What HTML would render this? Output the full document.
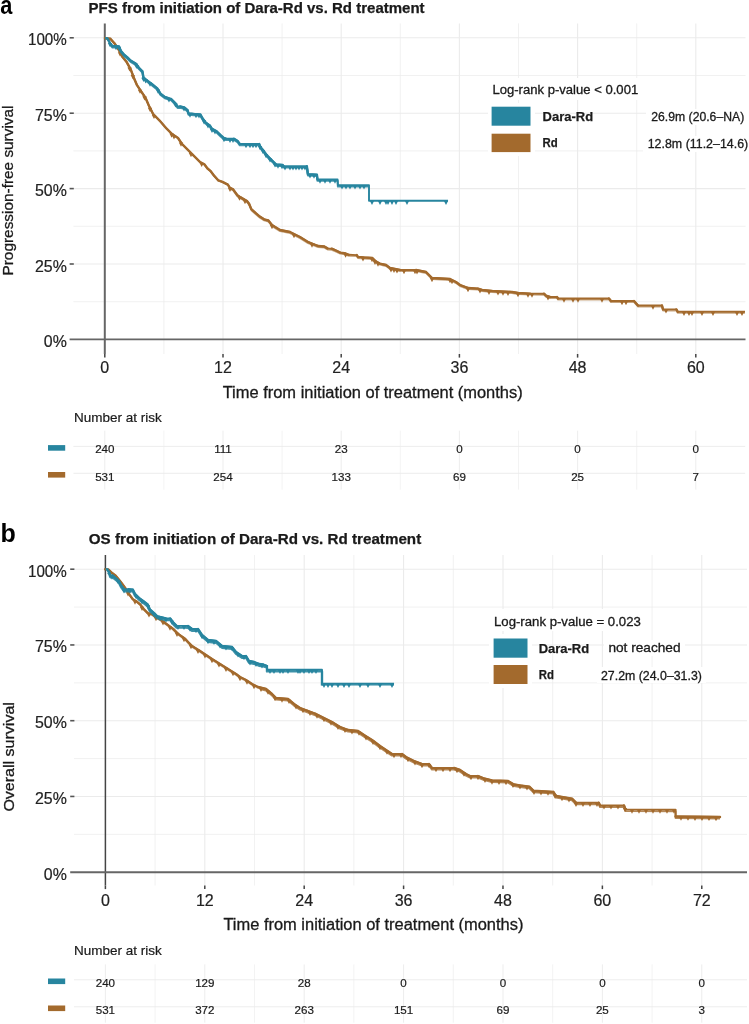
<!DOCTYPE html>
<html><head><meta charset="utf-8"><title>KM curves</title>
<style>html,body{margin:0;padding:0;background:#fff;}body{width:749px;height:1024px;overflow:hidden;font-family:"Liberation Sans",sans-serif;}svg{display:block;filter:blur(0.3px);}</style></head><body>
<svg width="749" height="1024" viewBox="0 0 749 1024" font-family='"Liberation Sans", sans-serif' fill="#1a1a1a">
<rect width="749" height="1024" fill="#ffffff"/>
<text x="0.3" y="14.2" font-size="25" font-weight="bold" textLength="12.1" lengthAdjust="spacingAndGlyphs" fill="#000">a</text>
<text x="88.6" y="12.5" font-size="14.4" stroke="#1a1a1a" stroke-width="0.25" font-weight="bold" textLength="336" lengthAdjust="spacingAndGlyphs">PFS from initiation of Dara-Rd vs. Rd treatment</text>
<line x1="73.4" y1="301.7" x2="745.5" y2="301.7" stroke="#ebebeb" stroke-width="0.7"/>
<line x1="73.4" y1="226.3" x2="745.5" y2="226.3" stroke="#ebebeb" stroke-width="0.7"/>
<line x1="73.4" y1="150.9" x2="745.5" y2="150.9" stroke="#ebebeb" stroke-width="0.7"/>
<line x1="73.4" y1="75.5" x2="745.5" y2="75.5" stroke="#ebebeb" stroke-width="0.7"/>
<line x1="163.9" y1="23.4" x2="163.9" y2="354" stroke="#ebebeb" stroke-width="0.7"/>
<line x1="282.1" y1="23.4" x2="282.1" y2="354" stroke="#ebebeb" stroke-width="0.7"/>
<line x1="400.3" y1="23.4" x2="400.3" y2="354" stroke="#ebebeb" stroke-width="0.7"/>
<line x1="518.5" y1="23.4" x2="518.5" y2="354" stroke="#ebebeb" stroke-width="0.7"/>
<line x1="636.7" y1="23.4" x2="636.7" y2="354" stroke="#ebebeb" stroke-width="0.7"/>
<line x1="73.4" y1="264" x2="745.5" y2="264" stroke="#ebebeb" stroke-width="1.1"/>
<line x1="73.4" y1="188.6" x2="745.5" y2="188.6" stroke="#ebebeb" stroke-width="1.1"/>
<line x1="73.4" y1="113.2" x2="745.5" y2="113.2" stroke="#ebebeb" stroke-width="1.1"/>
<line x1="73.4" y1="37.8" x2="745.5" y2="37.8" stroke="#ebebeb" stroke-width="1.1"/>
<line x1="223" y1="23.4" x2="223" y2="354" stroke="#ebebeb" stroke-width="1.1"/>
<line x1="341.2" y1="23.4" x2="341.2" y2="354" stroke="#ebebeb" stroke-width="1.1"/>
<line x1="459.4" y1="23.4" x2="459.4" y2="354" stroke="#ebebeb" stroke-width="1.1"/>
<line x1="577.6" y1="23.4" x2="577.6" y2="354" stroke="#ebebeb" stroke-width="1.1"/>
<line x1="695.8" y1="23.4" x2="695.8" y2="354" stroke="#ebebeb" stroke-width="1.1"/>
<line x1="104.8" y1="23.4" x2="104.8" y2="354" stroke="#666" stroke-width="2.0"/>
<line x1="104.8" y1="354" x2="104.8" y2="357.6" stroke="#444" stroke-width="1.5"/>
<line x1="69.6" y1="339.4" x2="745.5" y2="339.4" stroke="#666" stroke-width="1.9"/>
<line x1="69.6" y1="264" x2="73.8" y2="264" stroke="#555" stroke-width="1.6"/>
<line x1="69.6" y1="188.6" x2="73.8" y2="188.6" stroke="#555" stroke-width="1.6"/>
<line x1="69.6" y1="113.2" x2="73.8" y2="113.2" stroke="#555" stroke-width="1.6"/>
<line x1="69.6" y1="37.8" x2="73.8" y2="37.8" stroke="#555" stroke-width="1.6"/>
<line x1="223" y1="354" x2="223" y2="357.6" stroke="#444" stroke-width="1.5"/>
<line x1="341.2" y1="354" x2="341.2" y2="357.6" stroke="#444" stroke-width="1.5"/>
<line x1="459.4" y1="354" x2="459.4" y2="357.6" stroke="#444" stroke-width="1.5"/>
<line x1="577.6" y1="354" x2="577.6" y2="357.6" stroke="#444" stroke-width="1.5"/>
<line x1="695.8" y1="354" x2="695.8" y2="357.6" stroke="#444" stroke-width="1.5"/>
<text x="66.8" y="346.9" font-size="15.9" stroke="#222" stroke-width="0.2" text-anchor="end" fill="#222">0%</text>
<text x="66.8" y="271.5" font-size="15.9" stroke="#222" stroke-width="0.2" text-anchor="end" fill="#222">25%</text>
<text x="66.8" y="196.1" font-size="15.9" stroke="#222" stroke-width="0.2" text-anchor="end" fill="#222">50%</text>
<text x="66.8" y="120.7" font-size="15.9" stroke="#222" stroke-width="0.2" text-anchor="end" fill="#222">75%</text>
<text x="66.8" y="45.3" font-size="15.9" stroke="#222" stroke-width="0.2" text-anchor="end" textLength="38.8" lengthAdjust="spacingAndGlyphs" fill="#222">100%</text>
<text x="104.8" y="373.2" font-size="16" stroke="#222" stroke-width="0.2" text-anchor="middle" fill="#222">0</text>
<text x="223" y="373.2" font-size="16" stroke="#222" stroke-width="0.2" text-anchor="middle" fill="#222">12</text>
<text x="341.2" y="373.2" font-size="16" stroke="#222" stroke-width="0.2" text-anchor="middle" fill="#222">24</text>
<text x="459.4" y="373.2" font-size="16" stroke="#222" stroke-width="0.2" text-anchor="middle" fill="#222">36</text>
<text x="577.6" y="373.2" font-size="16" stroke="#222" stroke-width="0.2" text-anchor="middle" fill="#222">48</text>
<text x="695.8" y="373.2" font-size="16" stroke="#222" stroke-width="0.2" text-anchor="middle" fill="#222">60</text>
<polyline points="230,189.05 233.1,190.6 237.4,196.4 240.6,198.6 247,202.3 249.1,205 251.3,210.3 255.5,214.1 259.8,217.8 264.1,220.5 268.4,221.7 272,226.2 280,231.2 290,233.2 300,238.2 308,243.2 318,247.2 324.3,247.7 327.5,249.6 331.7,249.9 336,251.7 340.3,253.8 344.6,254.4 348.8,256 356.8,256.3 357.9,258.1 363.8,258.6 372.3,259.2 375.5,262.4 379.8,264.8 386,266.2 390,269.2 400,271.2 416,271.2 426,273.2 432,279.2 450,280.2 456,283.2 460,286.2 468,289.2 478,289.8 482,291.2 492,292.2 512,293.2 518,294.2 530,294.8 544,294.9 546,296.9 550,298.2 557,298.2 558,299.7 609,299.7 611,302.2 634,302.2 638,306.7 662,306.7 663,310.6 676.4,310.6 677.7,313 745,313" fill="none" stroke="#a36a2d" stroke-width="1.6" stroke-opacity="0.6" stroke-linejoin="round"/>
<polyline points="105,38.2 110.3,38.7 114.6,43.5 118.9,50 122.1,56.4 126.4,61.7 130.6,69.2 133.8,77.7 137,85.2 141.3,91.6 145.6,98 148.8,105.5 153.1,114 160,121 166,128 172,134 178,138 182,144 188,150 194,156 200,162 204.3,164.3 207.5,168.5 210.7,171.2 213.9,175.5 218.2,180.3 222.4,181.9 227.8,184.6 229.9,187.8 233.1,189.4 237.4,195.2 240.6,197.4 247,201.1 249.1,203.8 251.3,209.1 255.5,212.9 259.8,216.6 264.1,219.3 268.4,220.5 272,225 280,230 290,232 300,237 308,242 318,246 324.3,246.5 327.5,248.4 331.7,248.7 336,250.5 340.3,252.6 344.6,253.2 348.8,254.8 356.8,255.1 357.9,256.9 363.8,257.4 372.3,258 375.5,261.2 379.8,263.6 386,265 390,268 400,270 416,270 426,272 432,278 450,279 456,282 460,285 468,288 478,288.6 482,290 492,291 512,292 518,293 530,293.6 544,293.7 546,295.7 550,297 557,297 558,298.5 609,298.5 611,301 634,301 638,305.5 662,305.5 663,309.4 676.4,309.4 677.7,311.8 745,311.8" fill="none" stroke="#a36a2d" stroke-width="1.9" stroke-linejoin="round" stroke-linecap="butt"/>
<path d="M105,38.2L110.3,38.7M110.3,38.7L114.6,43.5M114.6,43.5L118.9,50M118.9,50L122.1,56.4M122.1,56.4L126.4,61.7M126.4,61.7L130.6,69.2M130.6,69.2L133.8,77.7M133.8,77.7L137,85.2M137,85.2L141.3,91.6M141.3,91.6L145.6,98M145.6,98L148.8,105.5M148.8,105.5L153.1,114M153.1,114L160,121M160,121L166,128M166,128L172,134M172,134L178,138M178,138L182,144M182,144L188,150M188,150L194,156M194,156L200,162M200,162L204.3,164.3M204.3,164.3L207.5,168.5M207.5,168.5L210.7,171.2M210.7,171.2L213.9,175.5M213.9,175.5L218.2,180.3M218.2,180.3L222.4,181.9M222.4,181.9L227.8,184.6M227.8,184.6L229.9,187.8M229.9,187.8L233.1,189.4M233.1,189.4L237.4,195.2M237.4,195.2L240.6,197.4M240.6,197.4L247,201.1M247,201.1L249.1,203.8M249.1,203.8L251.3,209.1M251.3,209.1L255.5,212.9M255.5,212.9L259.8,216.6M259.8,216.6L264.1,219.3M264.1,219.3L268.4,220.5M268.4,220.5L272,225M272,225L280,230M280,230L290,232M290,232L300,237M300,237L308,242M308,242L318,246M318,246L324.3,246.5M324.3,246.5L327.5,248.4M331.7,248.7L336,250.5M336,250.5L340.3,252.6M340.3,252.6L344.6,253.2M344.6,253.2L348.8,254.8M356.8,255.1L357.9,256.9M357.9,256.9L363.8,257.4M363.8,257.4L372.3,258M372.3,258L375.5,261.2M375.5,261.2L379.8,263.6M379.8,263.6L386,265M386,265L390,268M390,268L400,270M416,270L426,272M426,272L432,278M432,278L450,279M450,279L456,282M456,282L460,285M460,285L468,288M468,288L478,288.6M478,288.6L482,290M482,290L492,291M492,291L512,292M512,292L518,293M518,293L530,293.6M544,293.7L546,295.7M546,295.7L550,297M557,297L558,298.5M609,298.5L611,301M634,301L638,305.5M662,305.5L663,309.4M676.4,309.4L677.7,311.8" stroke="#a36a2d" stroke-width="2.4" stroke-linecap="round" fill="none"/>
<path d="M117.8,52.2L122.2,52.2L120,56.4ZM127.4,67.41L131.8,67.41L129.6,71.61ZM130.6,75.04L135,75.04L132.8,79.24ZM137.8,89.67L142.2,89.67L140,93.87ZM142.3,96.36L146.7,96.36L144.5,100.56ZM147.8,107.87L152.2,107.87L150,112.07ZM151.8,114.91L156.2,114.91L154,119.11ZM169.4,133.6L173.8,133.6L171.6,137.8ZM171.8,135.33L176.2,135.33L174,139.53ZM178.8,142.5L183.2,142.5L181,146.7ZM188.8,153L193.2,153L191,157.2ZM199.5,162.91L203.9,162.91L201.7,167.11ZM227.8,187.85L232.2,187.85L230,192.05ZM237.3,196.64L241.7,196.64L239.5,200.84ZM242.8,199.94L247.2,199.94L245,204.14ZM269.8,225L274.2,225L272,229.2ZM291.8,234L296.2,234L294,238.2ZM309.8,243.6L314.2,243.6L312,247.8ZM343.4,253.58L347.8,253.58L345.6,257.78ZM360.8,257.33L365.2,257.33L363,261.53ZM369.8,257.98L374.2,257.98L372,262.18ZM372.8,260.7L377.2,260.7L375,264.9ZM375.8,262.6L380.2,262.6L378,266.8ZM388.8,268.2L393.2,268.2L391,272.4ZM391.8,268.8L396.2,268.8L394,273ZM394.8,269.4L399.2,269.4L397,273.6ZM401.8,270L406.2,270L404,274.2ZM412.8,270L417.2,270L415,274.2ZM414.8,270.2L419.2,270.2L417,274.4ZM429.8,278L434.2,278L432,282.2ZM447.8,279L452.2,279L450,283.2ZM449.8,280L454.2,280L452,284.2ZM465.8,288L470.2,288L468,292.2ZM477.8,289.3L482.2,289.3L480,293.5ZM486.8,290.7L491.2,290.7L489,294.9ZM495.8,291.3L500.2,291.3L498,295.5ZM500.8,291.55L505.2,291.55L503,295.75ZM505.8,291.8L510.2,291.8L508,296ZM515.8,293L520.2,293L518,297.2ZM525.8,293.5L530.2,293.5L528,297.7ZM529.8,293.61L534.2,293.61L532,297.81ZM545.8,296.35L550.2,296.35L548,300.55ZM561.8,298.5L566.2,298.5L564,302.7ZM570.8,298.5L575.2,298.5L573,302.7ZM575.8,298.5L580.2,298.5L578,302.7ZM599.8,298.5L604.2,298.5L602,302.7ZM619.8,301L624.2,301L622,305.2ZM623.8,301L628.2,301L626,305.2ZM650.8,305.5L655.2,305.5L653,309.7ZM663.8,309.4L668.2,309.4L666,313.6ZM681.8,311.8L686.2,311.8L684,316ZM686.8,311.8L691.2,311.8L689,316ZM689.8,311.8L694.2,311.8L692,316ZM699.8,311.8L704.2,311.8L702,316ZM710.8,311.8L715.2,311.8L713,316ZM734.8,311.8L739.2,311.8L737,316ZM739.8,311.8L744.2,311.8L742,316Z" fill="#a36a2d" stroke="none"/>
<polyline points="110,44.3 110.3,44.8 112.5,47.5 115.7,47.2 118.9,47.8 121,52.3 124.2,56.1 127.4,58.7 130.6,61.9 136,65.1 139.2,69.4 142.4,72.6 143.5,79 147.7,82.2 152,85.4 157.3,89.7 160.5,95 164.8,98.3 171.2,100.4 175.5,104.7 177.6,107.9 180,107.7 184.3,108.8 187.5,111.4 188.5,114.7 193.9,115.2 200.3,115.7 202.4,119.5 205.6,123.7 209.9,126.9 212,130.1 216.3,132.3 220.6,136.5 223.8,139.2 225.9,140 234,140 237.7,142.4 239.8,145.3 259.2,145.3 260.4,148.3 263.4,151.9 267,156.7 270.6,160.3 274.2,163.9 276,165.7 282.6,166.3 283.8,167.6 306.9,167.6 307.9,175.4 316.9,176 317.5,180.8 337.6,180.8 337.9,186.6 368,186.6" fill="none" stroke="#27859f" stroke-width="2.0" stroke-opacity="0.85" stroke-linejoin="round"/>
<polyline points="105,38.2 107.1,38.2 110.3,43.5 112.5,46.2 115.7,45.9 118.9,46.5 121,51 124.2,54.8 127.4,57.4 130.6,60.6 136,63.8 139.2,68.1 142.4,71.3 143.5,77.7 147.7,80.9 152,84.1 157.3,88.4 160.5,93.7 164.8,97 171.2,99.1 175.5,103.4 177.6,106.6 180,106.4 184.3,107.5 187.5,110.1 188.5,113.4 193.9,113.9 200.3,114.4 202.4,118.2 205.6,122.4 209.9,125.6 212,128.8 216.3,131 220.6,135.2 223.8,137.9 225.9,138.7 234,138.7 237.7,141.1 239.8,144 259.2,144 260.4,147 263.4,150.6 267,155.4 270.6,159 274.2,162.6 276,164.4 282.6,165 283.8,166.3 306.9,166.3 307.9,174.1 316.9,174.7 317.5,179.5 337.6,179.5 337.9,185.3 369,185.3 369,200.7 448,200.7" fill="none" stroke="#27859f" stroke-width="1.9" stroke-linejoin="round" stroke-linecap="butt"/>
<path d="M107.1,38.2L110.3,43.5M110.3,43.5L112.5,46.2M112.5,46.2L115.7,45.9M115.7,45.9L118.9,46.5M118.9,46.5L121,51M121,51L124.2,54.8M124.2,54.8L127.4,57.4M127.4,57.4L130.6,60.6M130.6,60.6L136,63.8M136,63.8L139.2,68.1M139.2,68.1L142.4,71.3M142.4,71.3L143.5,77.7M143.5,77.7L147.7,80.9M147.7,80.9L152,84.1M152,84.1L157.3,88.4M157.3,88.4L160.5,93.7M160.5,93.7L164.8,97M164.8,97L171.2,99.1M171.2,99.1L175.5,103.4M175.5,103.4L177.6,106.6M180,106.4L184.3,107.5M184.3,107.5L187.5,110.1M187.5,110.1L188.5,113.4M188.5,113.4L193.9,113.9M193.9,113.9L200.3,114.4M200.3,114.4L202.4,118.2M202.4,118.2L205.6,122.4M205.6,122.4L209.9,125.6M209.9,125.6L212,128.8M212,128.8L216.3,131M216.3,131L220.6,135.2M220.6,135.2L223.8,137.9M223.8,137.9L225.9,138.7M234,138.7L237.7,141.1M237.7,141.1L239.8,144M259.2,144L260.4,147M260.4,147L263.4,150.6M263.4,150.6L267,155.4M267,155.4L270.6,159M270.6,159L274.2,162.6M274.2,162.6L276,164.4M276,164.4L282.6,165M282.6,165L283.8,166.3M306.9,166.3L307.9,174.1M307.9,174.1L316.9,174.7M316.9,174.7L317.5,179.5" stroke="#27859f" stroke-width="2.4" stroke-linecap="round" fill="none"/>
<path d="M107.8,43L112.2,43L110,47.2ZM113.8,45.96L118.2,45.96L116,50.16ZM116.8,46.71L121.2,46.71L119,50.91ZM133.8,63.8L138.2,63.8L136,68ZM134.8,65.14L139.2,65.14L137,69.34ZM141.3,77.7L145.7,77.7L143.5,81.9ZM143.4,79.3L147.8,79.3L145.6,83.5ZM147.8,82.61L152.2,82.61L150,86.81ZM155.8,89.56L160.2,89.56L158,93.76ZM166.8,98.38L171.2,98.38L169,102.58ZM173.3,103.4L177.7,103.4L175.5,107.6ZM181.8,107.42L186.2,107.42L184,111.62ZM187.8,113.54L192.2,113.54L190,117.74ZM193.8,114.06L198.2,114.06L196,118.26ZM196.8,114.3L201.2,114.3L199,118.5ZM201.8,120.3L206.2,120.3L204,124.5ZM205.8,124.19L210.2,124.19L208,128.39ZM209.8,128.8L214.2,128.8L212,133ZM212.8,130.33L217.2,130.33L215,134.53ZM221.8,137.98L226.2,137.98L224,142.18ZM227.8,138.7L232.2,138.7L230,142.9ZM230.8,138.7L235.2,138.7L233,142.9ZM243.8,144L248.2,144L246,148.2ZM247.8,144L252.2,144L250,148.2ZM250.8,144L255.2,144L253,148.2ZM253.8,144L258.2,144L256,148.2ZM257.8,146L262.2,146L260,150.2ZM260.8,150.12L265.2,150.12L263,154.32ZM263.8,154.07L268.2,154.07L266,158.27ZM267.8,158.4L272.2,158.4L270,162.6ZM272.8,163.4L277.2,163.4L275,167.6ZM275.8,164.58L280.2,164.58L278,168.78ZM279.8,164.95L284.2,164.95L282,169.15ZM282.8,166.3L287.2,166.3L285,170.5ZM287.8,166.3L292.2,166.3L290,170.5ZM290.8,166.3L295.2,166.3L293,170.5ZM293.8,166.3L298.2,166.3L296,170.5ZM296.8,166.3L301.2,166.3L299,170.5ZM299.8,166.3L304.2,166.3L302,170.5ZM302.8,166.3L307.2,166.3L305,170.5ZM307.8,174.24L312.2,174.24L310,178.44ZM311.8,174.51L316.2,174.51L314,178.71ZM317.8,179.5L322.2,179.5L320,183.7ZM322.8,179.5L327.2,179.5L325,183.7ZM327.8,179.5L332.2,179.5L330,183.7ZM332.8,179.5L337.2,179.5L335,183.7ZM339.8,185.3L344.2,185.3L342,189.5ZM343.8,185.3L348.2,185.3L346,189.5ZM347.8,185.3L352.2,185.3L350,189.5ZM352.8,185.3L357.2,185.3L355,189.5ZM357.8,185.3L362.2,185.3L360,189.5ZM361.8,185.3L366.2,185.3L364,189.5ZM369.8,200.7L374.2,200.7L372,204.9ZM377.8,200.7L382.2,200.7L380,204.9ZM383.8,200.7L388.2,200.7L386,204.9ZM385.8,200.7L390.2,200.7L388,204.9ZM389.8,200.7L394.2,200.7L392,204.9ZM393.8,200.7L398.2,200.7L396,204.9ZM404.8,200.7L409.2,200.7L407,204.9ZM443.8,200.7L448.2,200.7L446,204.9Z" fill="#27859f" stroke="none"/>
<text x="0" y="0" font-size="15.5" stroke="#1a1a1a" stroke-width="0.3" textLength="170" lengthAdjust="spacingAndGlyphs" transform="translate(13,275.5) rotate(-90)">Progression-free survival</text>
<text x="222.7" y="397.8" font-size="15.6" stroke="#1a1a1a" stroke-width="0.3" textLength="300" lengthAdjust="spacingAndGlyphs">Time from initiation of treatment (months)</text>
<rect x="487" y="78" width="160" height="22" fill="#fff"/>
<rect x="488" y="103" width="47" height="53" fill="#fff"/>
<rect x="646" y="109" width="103" height="16" fill="#fff"/>
<rect x="643" y="136" width="106" height="16" fill="#fff"/>
<text x="492.4" y="93.6" font-size="12.5" stroke="#1a1a1a" stroke-width="0.3" textLength="145.8" lengthAdjust="spacingAndGlyphs">Log-rank p-value &lt; 0.001</text>
<rect x="491.6" y="106.7" width="38.9" height="19" fill="#27859f"/>
<rect x="491.6" y="133.7" width="38.9" height="18.4" fill="#a36a2d"/>
<text x="542.6" y="121" font-size="13" stroke="#1a1a1a" stroke-width="0.25" font-weight="bold" textLength="50.5" lengthAdjust="spacingAndGlyphs">Dara-Rd</text>
<text x="542.6" y="147" font-size="13" stroke="#1a1a1a" stroke-width="0.25" font-weight="bold" textLength="15.2" lengthAdjust="spacingAndGlyphs">Rd</text>
<text x="651.3" y="121.3" font-size="12.3" stroke="#1a1a1a" stroke-width="0.3" textLength="92.9" lengthAdjust="spacingAndGlyphs">26.9m (20.6–NA)</text>
<text x="647.7" y="147.6" font-size="12.3" stroke="#1a1a1a" stroke-width="0.3" textLength="100.5" lengthAdjust="spacingAndGlyphs">12.8m (11.2–14.6)</text>
<line x1="73.4" y1="446.4" x2="745.2" y2="446.4" stroke="#ebebeb" stroke-width="0.9"/>
<line x1="73.4" y1="473.3" x2="745.2" y2="473.3" stroke="#ebebeb" stroke-width="0.9"/>
<line x1="104.8" y1="430.7" x2="104.8" y2="489.6" stroke="#ebebeb" stroke-width="0.9"/>
<line x1="163.9" y1="430.7" x2="163.9" y2="489.6" stroke="#ebebeb" stroke-width="0.6"/>
<line x1="223" y1="430.7" x2="223" y2="489.6" stroke="#ebebeb" stroke-width="0.9"/>
<line x1="282.1" y1="430.7" x2="282.1" y2="489.6" stroke="#ebebeb" stroke-width="0.6"/>
<line x1="341.2" y1="430.7" x2="341.2" y2="489.6" stroke="#ebebeb" stroke-width="0.9"/>
<line x1="400.3" y1="430.7" x2="400.3" y2="489.6" stroke="#ebebeb" stroke-width="0.6"/>
<line x1="459.4" y1="430.7" x2="459.4" y2="489.6" stroke="#ebebeb" stroke-width="0.9"/>
<line x1="518.5" y1="430.7" x2="518.5" y2="489.6" stroke="#ebebeb" stroke-width="0.6"/>
<line x1="577.6" y1="430.7" x2="577.6" y2="489.6" stroke="#ebebeb" stroke-width="0.9"/>
<line x1="636.7" y1="430.7" x2="636.7" y2="489.6" stroke="#ebebeb" stroke-width="0.6"/>
<line x1="695.8" y1="430.7" x2="695.8" y2="489.6" stroke="#ebebeb" stroke-width="0.9"/>
<text x="74.1" y="422" font-size="12.6" stroke="#1a1a1a" stroke-width="0.2" textLength="87.7" lengthAdjust="spacingAndGlyphs">Number at risk</text>
<rect x="48" y="445.1" width="17.2" height="5.6" fill="#27859f"/>
<rect x="48" y="472" width="17.2" height="5.6" fill="#a36a2d"/>
<text x="104.8" y="453.2" font-size="11.6" stroke="#1a1a1a" stroke-width="0.2" text-anchor="middle">240</text>
<text x="223" y="453.2" font-size="11.6" stroke="#1a1a1a" stroke-width="0.2" text-anchor="middle">111</text>
<text x="341.2" y="453.2" font-size="11.6" stroke="#1a1a1a" stroke-width="0.2" text-anchor="middle">23</text>
<text x="459.4" y="453.2" font-size="11.6" stroke="#1a1a1a" stroke-width="0.2" text-anchor="middle">0</text>
<text x="577.6" y="453.2" font-size="11.6" stroke="#1a1a1a" stroke-width="0.2" text-anchor="middle">0</text>
<text x="695.8" y="453.2" font-size="11.6" stroke="#1a1a1a" stroke-width="0.2" text-anchor="middle">0</text>
<text x="104.8" y="480.7" font-size="11.6" stroke="#1a1a1a" stroke-width="0.2" text-anchor="middle">531</text>
<text x="223" y="480.7" font-size="11.6" stroke="#1a1a1a" stroke-width="0.2" text-anchor="middle">254</text>
<text x="341.2" y="480.7" font-size="11.6" stroke="#1a1a1a" stroke-width="0.2" text-anchor="middle">133</text>
<text x="459.4" y="480.7" font-size="11.6" stroke="#1a1a1a" stroke-width="0.2" text-anchor="middle">69</text>
<text x="577.6" y="480.7" font-size="11.6" stroke="#1a1a1a" stroke-width="0.2" text-anchor="middle">25</text>
<text x="695.8" y="480.7" font-size="11.6" stroke="#1a1a1a" stroke-width="0.2" text-anchor="middle">7</text>
<text x="0.4" y="541.5" font-size="25" font-weight="bold" fill="#000">b</text>
<text x="88.8" y="543.5" font-size="14.4" stroke="#1a1a1a" stroke-width="0.25" font-weight="bold" textLength="332.4" lengthAdjust="spacingAndGlyphs">OS from initiation of Dara-Rd vs. Rd treatment</text>
<line x1="74" y1="834.33" x2="747" y2="834.33" stroke="#ebebeb" stroke-width="0.7"/>
<line x1="74" y1="758.58" x2="747" y2="758.58" stroke="#ebebeb" stroke-width="0.7"/>
<line x1="74" y1="682.83" x2="747" y2="682.83" stroke="#ebebeb" stroke-width="0.7"/>
<line x1="74" y1="607.08" x2="747" y2="607.08" stroke="#ebebeb" stroke-width="0.7"/>
<line x1="155.1" y1="555" x2="155.1" y2="885.5" stroke="#ebebeb" stroke-width="0.7"/>
<line x1="254.49" y1="555" x2="254.49" y2="885.5" stroke="#ebebeb" stroke-width="0.7"/>
<line x1="353.89" y1="555" x2="353.89" y2="885.5" stroke="#ebebeb" stroke-width="0.7"/>
<line x1="453.29" y1="555" x2="453.29" y2="885.5" stroke="#ebebeb" stroke-width="0.7"/>
<line x1="552.68" y1="555" x2="552.68" y2="885.5" stroke="#ebebeb" stroke-width="0.7"/>
<line x1="652.08" y1="555" x2="652.08" y2="885.5" stroke="#ebebeb" stroke-width="0.7"/>
<line x1="74" y1="796.45" x2="747" y2="796.45" stroke="#ebebeb" stroke-width="1.1"/>
<line x1="74" y1="720.7" x2="747" y2="720.7" stroke="#ebebeb" stroke-width="1.1"/>
<line x1="74" y1="644.95" x2="747" y2="644.95" stroke="#ebebeb" stroke-width="1.1"/>
<line x1="74" y1="569.2" x2="747" y2="569.2" stroke="#ebebeb" stroke-width="1.1"/>
<line x1="204.8" y1="555" x2="204.8" y2="885.5" stroke="#ebebeb" stroke-width="1.1"/>
<line x1="304.19" y1="555" x2="304.19" y2="885.5" stroke="#ebebeb" stroke-width="1.1"/>
<line x1="403.59" y1="555" x2="403.59" y2="885.5" stroke="#ebebeb" stroke-width="1.1"/>
<line x1="502.98" y1="555" x2="502.98" y2="885.5" stroke="#ebebeb" stroke-width="1.1"/>
<line x1="602.38" y1="555" x2="602.38" y2="885.5" stroke="#ebebeb" stroke-width="1.1"/>
<line x1="701.78" y1="555" x2="701.78" y2="885.5" stroke="#ebebeb" stroke-width="1.1"/>
<line x1="105.4" y1="555" x2="105.4" y2="885.5" stroke="#444" stroke-width="1.5"/>
<line x1="105.4" y1="885.5" x2="105.4" y2="889.1" stroke="#444" stroke-width="1.5"/>
<line x1="70.2" y1="872.2" x2="747" y2="872.2" stroke="#666" stroke-width="1.9"/>
<line x1="70.2" y1="796.45" x2="74.4" y2="796.45" stroke="#555" stroke-width="1.6"/>
<line x1="70.2" y1="720.7" x2="74.4" y2="720.7" stroke="#555" stroke-width="1.6"/>
<line x1="70.2" y1="644.95" x2="74.4" y2="644.95" stroke="#555" stroke-width="1.6"/>
<line x1="70.2" y1="569.2" x2="74.4" y2="569.2" stroke="#555" stroke-width="1.6"/>
<line x1="204.8" y1="885.5" x2="204.8" y2="889.1" stroke="#444" stroke-width="1.5"/>
<line x1="304.19" y1="885.5" x2="304.19" y2="889.1" stroke="#444" stroke-width="1.5"/>
<line x1="403.59" y1="885.5" x2="403.59" y2="889.1" stroke="#444" stroke-width="1.5"/>
<line x1="502.98" y1="885.5" x2="502.98" y2="889.1" stroke="#444" stroke-width="1.5"/>
<line x1="602.38" y1="885.5" x2="602.38" y2="889.1" stroke="#444" stroke-width="1.5"/>
<line x1="701.78" y1="885.5" x2="701.78" y2="889.1" stroke="#444" stroke-width="1.5"/>
<text x="66.8" y="879.7" font-size="15.9" stroke="#222" stroke-width="0.2" text-anchor="end" fill="#222">0%</text>
<text x="66.8" y="803.95" font-size="15.9" stroke="#222" stroke-width="0.2" text-anchor="end" fill="#222">25%</text>
<text x="66.8" y="728.2" font-size="15.9" stroke="#222" stroke-width="0.2" text-anchor="end" fill="#222">50%</text>
<text x="66.8" y="652.45" font-size="15.9" stroke="#222" stroke-width="0.2" text-anchor="end" fill="#222">75%</text>
<text x="66.8" y="576.7" font-size="15.9" stroke="#222" stroke-width="0.2" text-anchor="end" textLength="38.8" lengthAdjust="spacingAndGlyphs" fill="#222">100%</text>
<text x="105.4" y="906" font-size="16" stroke="#222" stroke-width="0.2" text-anchor="middle" fill="#222">0</text>
<text x="204.8" y="906" font-size="16" stroke="#222" stroke-width="0.2" text-anchor="middle" fill="#222">12</text>
<text x="304.19" y="906" font-size="16" stroke="#222" stroke-width="0.2" text-anchor="middle" fill="#222">24</text>
<text x="403.59" y="906" font-size="16" stroke="#222" stroke-width="0.2" text-anchor="middle" fill="#222">36</text>
<text x="502.98" y="906" font-size="16" stroke="#222" stroke-width="0.2" text-anchor="middle" fill="#222">48</text>
<text x="602.38" y="906" font-size="16" stroke="#222" stroke-width="0.2" text-anchor="middle" fill="#222">60</text>
<text x="701.78" y="906" font-size="16" stroke="#222" stroke-width="0.2" text-anchor="middle" fill="#222">72</text>
<polyline points="150,614.73 152,615.2 156.3,618.4 160.5,620.6 164.8,623.8 169.1,627 173.4,630.2 177.6,634.5 181.9,637.7 185,639.8 188,643.1 192,647.1 200,652.1 206,656.1 212,660.1 220,665.1 228,670.1 236,675.1 240,678.1 246,681.1 252,685.1 258,688.1 260,688.6" fill="none" stroke="#a36a2d" stroke-width="1.5" stroke-opacity="0.5" stroke-linejoin="round"/>
<polyline points="260,689.1 266,690.6 272,695.6 276,699.6 288,700.6 294,705.6 300,709.6 308,712.6 316,715.6 324,719.6 332,723.6 340,728.6 348,731.6 358,732.6 364,736.6 372,741.6 380,747.6 386,751.6 392,755.6 402,755.6 406,758.6 414,762.6 422,765.6 429,765.6 432,769.6 454,769.6 460,771.6 466,775.6 470,777.6 478,777.6 484,780.1 492,782.1 508,782.6 514,786.1 520,787 529.3,788.3 533.4,792.3 553.4,793.6 556,797.6 572,800.3 576,804.3 598.8,804.3 600,807 624,807 625.5,811 675.6,811.2 675.6,818.1 720,818.6" fill="none" stroke="#a36a2d" stroke-width="2.0" stroke-opacity="0.8" stroke-linejoin="round"/>
<polyline points="104,569.3 108.2,569.5 111.4,572.5 115.7,575.7 120,581 123.2,585.3 126.4,589.6 129.6,594.9 132.8,599.2 137,601.8 140.2,604.5 143.5,608.8 147.7,613.1 152,614.1 156.3,617.3 160.5,619.5 164.8,622.7 169.1,625.9 173.4,629.1 177.6,633.4 181.9,636.6 185,638.7 188,642 192,646 200,651 206,655 212,659 220,664 228,669 236,674 240,677 246,680 252,684 258,687 266,689 272,694 276,698 288,699 294,704 300,708 308,711 316,714 324,718 332,722 340,727 348,730 358,731 364,735 372,740 380,746 386,750 392,754 402,754 406,757 414,761 422,764 429,764 432,768 454,768 460,770 466,774 470,776 478,776 484,778.5 492,780.5 508,781 514,784.5 520,785.4 529.3,786.7 533.4,790.7 553.4,792 556,796 572,798.7 576,802.7 598.8,802.7 600,805.4 624,805.4 625.5,809.4 675.6,809.6 675.6,816.5 720,817" fill="none" stroke="#a36a2d" stroke-width="1.9" stroke-linejoin="round" stroke-linecap="butt"/>
<path d="M108.2,569.5L111.4,572.5M111.4,572.5L115.7,575.7M115.7,575.7L120,581M120,581L123.2,585.3M123.2,585.3L126.4,589.6M126.4,589.6L129.6,594.9M129.6,594.9L132.8,599.2M132.8,599.2L137,601.8M137,601.8L140.2,604.5M140.2,604.5L143.5,608.8M143.5,608.8L147.7,613.1M147.7,613.1L152,614.1M152,614.1L156.3,617.3M156.3,617.3L160.5,619.5M160.5,619.5L164.8,622.7M164.8,622.7L169.1,625.9M169.1,625.9L173.4,629.1M173.4,629.1L177.6,633.4M177.6,633.4L181.9,636.6M181.9,636.6L185,638.7M185,638.7L188,642M188,642L192,646M192,646L200,651M200,651L206,655M206,655L212,659M212,659L220,664M220,664L228,669M228,669L236,674M236,674L240,677M240,677L246,680M246,680L252,684M252,684L258,687M258,687L266,689M266,689L272,694M272,694L276,698M276,698L288,699M288,699L294,704M294,704L300,708M300,708L308,711M308,711L316,714M316,714L324,718M324,718L332,722M332,722L340,727M340,727L348,730M348,730L358,731M358,731L364,735M364,735L372,740M372,740L380,746M380,746L386,750M386,750L392,754M402,754L406,757M406,757L414,761M414,761L422,764M429,764L432,768M454,768L460,770M460,770L466,774M466,774L470,776M478,776L484,778.5M484,778.5L492,780.5M492,780.5L508,781M508,781L514,784.5M514,784.5L520,785.4M520,785.4L529.3,786.7M529.3,786.7L533.4,790.7M533.4,790.7L553.4,792M553.4,792L556,796M556,796L572,798.7M572,798.7L576,802.7M598.8,802.7L600,805.4M624,805.4L625.5,809.4M675.6,816.5L720,817" stroke="#a36a2d" stroke-width="2.4" stroke-linecap="round" fill="none"/>
<path d="M125.8,592.25L130.2,592.25L128,596.45ZM132.8,600.56L137.2,600.56L135,604.76ZM139.8,606.85L144.2,606.85L142,611.05ZM146.8,613.4L151.2,613.4L149,617.6ZM153.8,617.08L158.2,617.08L156,621.28ZM160.8,621.36L165.2,621.36L163,625.56ZM167.8,626.57L172.2,626.57L170,630.77ZM174.8,632.79L179.2,632.79L177,636.99ZM181.8,638.02L186.2,638.02L184,642.22ZM188.8,645L193.2,645L191,649.2ZM195.8,649.75L200.2,649.75L198,653.95ZM202.8,654.33L207.2,654.33L205,658.53ZM209.8,659L214.2,659L212,663.2ZM216.8,663.38L221.2,663.38L219,667.58ZM223.8,667.75L228.2,667.75L226,671.95ZM230.8,672.12L235.2,672.12L233,676.33ZM237.8,677L242.2,677L240,681.2ZM244.8,680.67L249.2,680.67L247,684.87ZM251.8,685L256.2,685L254,689.2ZM258.8,687.75L263.2,687.75L261,691.95ZM265.8,690.67L270.2,690.67L268,694.87ZM272.8,697L277.2,697L275,701.2ZM279.8,698.5L284.2,698.5L282,702.7ZM286.8,699.83L291.2,699.83L289,704.03ZM293.8,705.33L298.2,705.33L296,709.53ZM300.8,709.12L305.2,709.12L303,713.33ZM307.8,711.75L312.2,711.75L310,715.95ZM314.8,714.5L319.2,714.5L317,718.7ZM321.8,718L326.2,718L324,722.2ZM328.8,721.5L333.2,721.5L331,725.7ZM335.8,725.75L340.2,725.75L338,729.95ZM342.8,728.88L347.2,728.88L345,733.08ZM349.8,730.4L354.2,730.4L352,734.6ZM356.8,731.67L361.2,731.67L359,735.87ZM363.8,736.25L368.2,736.25L366,740.45ZM370.8,740.75L375.2,740.75L373,744.95ZM377.8,746L382.2,746L380,750.2ZM384.8,750.67L389.2,750.67L387,754.87ZM391.8,754L396.2,754L394,758.2ZM398.8,754L403.2,754L401,758.2ZM405.8,758L410.2,758L408,762.2ZM412.8,761.38L417.2,761.38L415,765.58ZM419.8,764L424.2,764L422,768.2ZM426.8,764L431.2,764L429,768.2ZM433.8,768L438.2,768L436,772.2ZM440.8,768L445.2,768L443,772.2ZM447.8,768L452.2,768L450,772.2ZM454.8,769L459.2,769L457,773.2ZM461.8,772.67L466.2,772.67L464,776.87ZM468.8,776L473.2,776L471,780.2ZM475.8,776L480.2,776L478,780.2ZM482.8,778.75L487.2,778.75L485,782.95ZM489.8,780.5L494.2,780.5L492,784.7ZM496.8,780.72L501.2,780.72L499,784.92ZM503.8,780.94L508.2,780.94L506,785.14ZM510.8,783.92L515.2,783.92L513,788.12ZM517.8,785.4L522.2,785.4L520,789.6ZM524.8,786.38L529.2,786.38L527,790.58ZM531.8,790.74L536.2,790.74L534,794.94ZM538.8,791.19L543.2,791.19L541,795.39ZM545.8,791.65L550.2,791.65L548,795.85ZM552.8,794.46L557.2,794.46L555,798.66ZM559.8,797.01L564.2,797.01L562,801.21ZM566.8,798.19L571.2,798.19L569,802.39ZM573.8,802.7L578.2,802.7L576,806.9ZM580.8,802.7L585.2,802.7L583,806.9ZM587.8,802.7L592.2,802.7L590,806.9ZM594.8,802.7L599.2,802.7L597,806.9ZM601.8,805.4L606.2,805.4L604,809.6ZM608.8,805.4L613.2,805.4L611,809.6ZM615.8,805.4L620.2,805.4L618,809.6ZM622.8,808.07L627.2,808.07L625,812.27ZM629.8,809.43L634.2,809.43L632,813.63ZM636.8,809.45L641.2,809.45L639,813.65ZM643.8,809.48L648.2,809.48L646,813.68ZM650.8,809.51L655.2,809.51L653,813.71ZM657.8,809.54L662.2,809.54L660,813.74ZM664.8,809.57L669.2,809.57L667,813.77ZM671.8,809.59L676.2,809.59L674,813.79ZM678.8,816.56L683.2,816.56L681,820.76ZM685.8,816.64L690.2,816.64L688,820.84ZM692.8,816.72L697.2,816.72L695,820.92ZM699.8,816.8L704.2,816.8L702,821ZM706.8,816.88L711.2,816.88L709,821.08ZM713.8,816.95L718.2,816.95L716,821.15Z" fill="#a36a2d" stroke="none"/>
<polyline points="108,572.31 109.3,574.2 110.3,577.2 112.5,577.2 116.7,580.6 118.9,582.7 121,587 124.2,591.2 128.5,591 132.8,591.3 134.9,595.5 139.2,599.8 143.5,603 147.7,606.2 149.9,611.2 154.1,614.8 157.3,618 161.6,619 165.9,620.1 170.2,620.1 173.4,624.4 176.6,627.6 185,627.6 188,627.7 192,630.7 198,630.7 202,636.7 208,641.7 216,642.7 222,647.7 232,648.7 236,653.7 242,657.7 246,657.7 249,662.7 254,663.7 259,665.7 263,666.2 267,667.7 267,671.4 322,671.4 322,685.4 322,685.4" fill="none" stroke="#27859f" stroke-width="2.4" stroke-opacity="0.9" stroke-linejoin="round"/>
<polyline points="322,670.8 322,670.8 322,684.8 394,684.8" fill="none" stroke="#27859f" stroke-width="1.7" stroke-opacity="0.65" stroke-linejoin="round"/>
<polyline points="105.6,569.3 107.1,569.3 109.3,572.5 110.3,575.5 112.5,575.5 116.7,578.9 118.9,581 121,585.3 124.2,589.5 128.5,589.3 132.8,589.6 134.9,593.8 139.2,598.1 143.5,601.3 147.7,604.5 149.9,609.5 154.1,613.1 157.3,616.3 161.6,617.3 165.9,618.4 170.2,618.4 173.4,622.7 176.6,625.9 185,625.9 188,626 192,629 198,629 202,635 208,640 216,641 222,646 232,647 236,652 242,656 246,656 249,661 254,662 259,664 263,664.5 267,666 267,669.7 322,669.7 322,683.7 394,683.7" fill="none" stroke="#27859f" stroke-width="1.9" stroke-linejoin="round" stroke-linecap="butt"/>
<path d="M107.1,569.3L109.3,572.5M109.3,572.5L110.3,575.5M112.5,575.5L116.7,578.9M116.7,578.9L118.9,581M118.9,581L121,585.3M121,585.3L124.2,589.5M128.5,589.3L132.8,589.6M132.8,589.6L134.9,593.8M134.9,593.8L139.2,598.1M139.2,598.1L143.5,601.3M143.5,601.3L147.7,604.5M147.7,604.5L149.9,609.5M149.9,609.5L154.1,613.1M154.1,613.1L157.3,616.3M157.3,616.3L161.6,617.3M161.6,617.3L165.9,618.4M170.2,618.4L173.4,622.7M173.4,622.7L176.6,625.9M188,626L192,629M198,629L202,635M202,635L208,640M208,640L216,641M216,641L222,646M222,646L232,647M232,647L236,652M236,652L242,656M246,656L249,661M249,661L254,662M254,662L259,664M259,664L263,664.5M263,664.5L267,666" stroke="#27859f" stroke-width="2.4" stroke-linecap="round" fill="none"/>
<path d="M109.8,575.5L114.2,575.5L112,579.7ZM115.8,580.14L120.2,580.14L118,584.34ZM121.8,589.24L126.2,589.24L124,593.44ZM127.8,589.4L132.2,589.4L130,593.6ZM133.8,594.9L138.2,594.9L136,599.1ZM139.8,600.18L144.2,600.18L142,604.38ZM145.8,605.18L150.2,605.18L148,609.38ZM151.8,613.01L156.2,613.01L154,617.21ZM157.8,616.93L162.2,616.93L160,621.13ZM163.8,618.4L168.2,618.4L166,622.6ZM169.8,620.82L174.2,620.82L172,625.02ZM175.8,625.9L180.2,625.9L178,630.1ZM181.8,625.9L186.2,625.9L184,630.1ZM187.8,627.5L192.2,627.5L190,631.7ZM193.8,629L198.2,629L196,633.2ZM199.8,635L204.2,635L202,639.2ZM205.8,640L210.2,640L208,644.2ZM211.8,640.75L216.2,640.75L214,644.95ZM217.8,644.33L222.2,644.33L220,648.53ZM223.8,646.4L228.2,646.4L226,650.6ZM229.8,647L234.2,647L232,651.2ZM235.8,653.33L240.2,653.33L238,657.53ZM241.8,656L246.2,656L244,660.2ZM247.8,661.2L252.2,661.2L250,665.4ZM253.8,662.8L258.2,662.8L256,667ZM259.8,664.38L264.2,664.38L262,668.58ZM267.8,669.7L272.2,669.7L270,673.9ZM271.8,669.7L276.2,669.7L274,673.9ZM277.8,669.7L282.2,669.7L280,673.9ZM280.8,669.7L285.2,669.7L283,673.9ZM285.8,669.7L290.2,669.7L288,673.9ZM295.8,669.7L300.2,669.7L298,673.9ZM297.8,669.7L302.2,669.7L300,673.9ZM301.8,669.7L306.2,669.7L304,673.9ZM306.8,669.7L311.2,669.7L309,673.9ZM309.8,669.7L314.2,669.7L312,673.9ZM313.8,669.7L318.2,669.7L316,673.9ZM321.8,683.7L326.2,683.7L324,687.9ZM325.8,683.7L330.2,683.7L328,687.9ZM329.8,683.7L334.2,683.7L332,687.9ZM335.8,683.7L340.2,683.7L338,687.9ZM341.8,683.7L346.2,683.7L344,687.9ZM346.8,683.7L351.2,683.7L349,687.9ZM357.8,683.7L362.2,683.7L360,687.9ZM365.8,683.7L370.2,683.7L368,687.9ZM377.8,683.7L382.2,683.7L380,687.9ZM389.8,683.7L394.2,683.7L392,687.9Z" fill="#27859f" stroke="none"/>
<text x="0" y="0" font-size="15.5" stroke="#1a1a1a" stroke-width="0.3" textLength="109.5" lengthAdjust="spacingAndGlyphs" transform="translate(13.6,811.6) rotate(-90)">Overall survival</text>
<text x="223.4" y="930.2" font-size="15.6" stroke="#1a1a1a" stroke-width="0.3" textLength="300" lengthAdjust="spacingAndGlyphs">Time from initiation of treatment (months)</text>
<rect x="489" y="609" width="159" height="22" fill="#fff"/>
<rect x="489" y="634" width="43" height="54" fill="#fff"/>
<rect x="604" y="640" width="81" height="16" fill="#fff"/>
<rect x="597" y="667" width="109" height="16" fill="#fff"/>
<text x="494" y="625.6" font-size="12.5" stroke="#1a1a1a" stroke-width="0.3" textLength="146.8" lengthAdjust="spacingAndGlyphs">Log-rank p-value = 0.023</text>
<rect x="493.6" y="638.5" width="33.9" height="19.2" fill="#27859f"/>
<rect x="493.6" y="665" width="33.9" height="19" fill="#a36a2d"/>
<text x="538.7" y="652.5" font-size="13" stroke="#1a1a1a" stroke-width="0.25" font-weight="bold" textLength="50.5" lengthAdjust="spacingAndGlyphs">Dara-Rd</text>
<text x="538.7" y="679.2" font-size="13" stroke="#1a1a1a" stroke-width="0.25" font-weight="bold" textLength="15.2" lengthAdjust="spacingAndGlyphs">Rd</text>
<text x="608.4" y="652.2" font-size="12.6" stroke="#1a1a1a" stroke-width="0.3" textLength="72.2" lengthAdjust="spacingAndGlyphs">not reached</text>
<text x="601" y="679.6" font-size="12.3" stroke="#1a1a1a" stroke-width="0.3" textLength="100.9" lengthAdjust="spacingAndGlyphs">27.2m (24.0–31.3)</text>
<line x1="74" y1="979.8" x2="747" y2="979.8" stroke="#ebebeb" stroke-width="0.9"/>
<line x1="74" y1="1006.8" x2="747" y2="1006.8" stroke="#ebebeb" stroke-width="0.9"/>
<line x1="105.4" y1="964.4" x2="105.4" y2="1022.7" stroke="#ebebeb" stroke-width="0.9"/>
<line x1="155.1" y1="964.4" x2="155.1" y2="1022.7" stroke="#ebebeb" stroke-width="0.6"/>
<line x1="204.8" y1="964.4" x2="204.8" y2="1022.7" stroke="#ebebeb" stroke-width="0.9"/>
<line x1="254.49" y1="964.4" x2="254.49" y2="1022.7" stroke="#ebebeb" stroke-width="0.6"/>
<line x1="304.19" y1="964.4" x2="304.19" y2="1022.7" stroke="#ebebeb" stroke-width="0.9"/>
<line x1="353.89" y1="964.4" x2="353.89" y2="1022.7" stroke="#ebebeb" stroke-width="0.6"/>
<line x1="403.59" y1="964.4" x2="403.59" y2="1022.7" stroke="#ebebeb" stroke-width="0.9"/>
<line x1="453.29" y1="964.4" x2="453.29" y2="1022.7" stroke="#ebebeb" stroke-width="0.6"/>
<line x1="502.98" y1="964.4" x2="502.98" y2="1022.7" stroke="#ebebeb" stroke-width="0.9"/>
<line x1="552.68" y1="964.4" x2="552.68" y2="1022.7" stroke="#ebebeb" stroke-width="0.6"/>
<line x1="602.38" y1="964.4" x2="602.38" y2="1022.7" stroke="#ebebeb" stroke-width="0.9"/>
<line x1="652.08" y1="964.4" x2="652.08" y2="1022.7" stroke="#ebebeb" stroke-width="0.6"/>
<line x1="701.78" y1="964.4" x2="701.78" y2="1022.7" stroke="#ebebeb" stroke-width="0.9"/>
<text x="74" y="955.1" font-size="12.6" stroke="#1a1a1a" stroke-width="0.2" textLength="87.7" lengthAdjust="spacingAndGlyphs">Number at risk</text>
<rect x="48" y="978.5" width="17.2" height="5.6" fill="#27859f"/>
<rect x="48" y="1005.5" width="17.2" height="5.6" fill="#a36a2d"/>
<text x="105.4" y="986.7" font-size="11.6" stroke="#1a1a1a" stroke-width="0.2" text-anchor="middle">240</text>
<text x="204.8" y="986.7" font-size="11.6" stroke="#1a1a1a" stroke-width="0.2" text-anchor="middle">129</text>
<text x="304.19" y="986.7" font-size="11.6" stroke="#1a1a1a" stroke-width="0.2" text-anchor="middle">28</text>
<text x="403.59" y="986.7" font-size="11.6" stroke="#1a1a1a" stroke-width="0.2" text-anchor="middle">0</text>
<text x="502.98" y="986.7" font-size="11.6" stroke="#1a1a1a" stroke-width="0.2" text-anchor="middle">0</text>
<text x="602.38" y="986.7" font-size="11.6" stroke="#1a1a1a" stroke-width="0.2" text-anchor="middle">0</text>
<text x="701.78" y="986.7" font-size="11.6" stroke="#1a1a1a" stroke-width="0.2" text-anchor="middle">0</text>
<text x="105.4" y="1014" font-size="11.6" stroke="#1a1a1a" stroke-width="0.2" text-anchor="middle">531</text>
<text x="204.8" y="1014" font-size="11.6" stroke="#1a1a1a" stroke-width="0.2" text-anchor="middle">372</text>
<text x="304.19" y="1014" font-size="11.6" stroke="#1a1a1a" stroke-width="0.2" text-anchor="middle">263</text>
<text x="403.59" y="1014" font-size="11.6" stroke="#1a1a1a" stroke-width="0.2" text-anchor="middle">151</text>
<text x="502.98" y="1014" font-size="11.6" stroke="#1a1a1a" stroke-width="0.2" text-anchor="middle">69</text>
<text x="602.38" y="1014" font-size="11.6" stroke="#1a1a1a" stroke-width="0.2" text-anchor="middle">25</text>
<text x="701.78" y="1014" font-size="11.6" stroke="#1a1a1a" stroke-width="0.2" text-anchor="middle">3</text>
</svg>
</body></html>
